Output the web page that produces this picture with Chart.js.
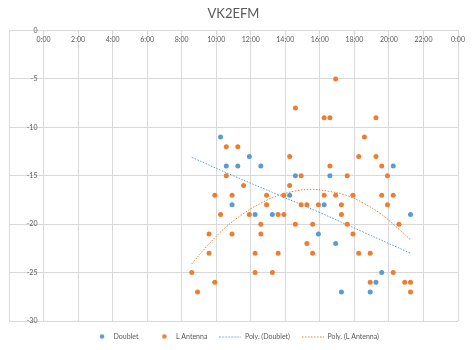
<!DOCTYPE html>
<html>
<head>
<meta charset="utf-8">
<title>VK2EFM</title>
<script src="https://cdn.jsdelivr.net/npm/chart.js@4"></script>
<style>
  html, body { margin: 0; padding: 0; background: #fff; }
  canvas { display: block; }
</style>
</head>
<body>
<canvas id="vk2efmChart" width="474" height="350"></canvas>
<script>
// SNR reports (dB) against time of day
const doubletTimes = ["10:15", "10:35", "10:55", "11:15", "11:55", "12:15", "12:35", "13:15", "14:15", "14:35",
  "15:55", "16:15", "16:35", "16:55", "17:15", "18:55", "19:15", "19:35", "20:15", "21:15"];
const doubletSnr = [-11, -14, -18, -14, -13, -19, -14, -19, -17, -15,
  -21, -18, -15, -22, -27, -27, -26, -25, -14, -19];

const lAntennaTimes = ["8:35", "8:55", "9:35", "9:35", "9:55", "9:55", "10:15", "10:35", "10:35", "10:55",
  "10:55", "11:15", "11:35", "11:55", "12:15", "12:15", "12:35", "12:35", "12:55", "12:55",
  "13:15", "13:35", "13:35", "13:55", "13:55", "14:15", "14:15", "14:35", "14:35", "14:55",
  "14:55", "15:15", "15:15", "15:35", "15:35", "15:55", "16:15", "16:15", "16:35", "16:35",
  "16:55", "16:55", "17:15", "17:15", "17:35", "17:35", "17:55", "17:55", "18:15", "18:15",
  "18:35", "18:55", "18:55", "19:15", "19:15", "19:35", "19:35", "19:55", "19:55", "20:15",
  "20:15", "20:35", "20:55", "21:15", "21:15"];
const lAntennaSnr = [-25, -27, -21, -23, -17, -26, -19, -12, -15, -17,
  -21, -12, -16, -19, -23, -25, -20, -21, -17, -18,
  -25, -19, -23, -17, -19, -16, -13, -8, -20, -15,
  -18, -18, -22, -20, -23, -18, -9, -17, -9, -14,
  -5, -17, -18, -19, -15, -20, -17, -21, -13, -23,
  -11, -23, -26, -9, -13, -14, -17, -15, -18, -17,
  -25, -20, -26, -26, -27];

// trendlines
const polyDoubletTimes = ["8:35", "11:00", "13:30", "16:00", "18:30", "21:15"];
const polyDoubletSnr = [-13.1, -15.0, -16.9, -18.8, -20.8, -23.0];
const polyLAntennaTimes = ["8:35", "9:30", "10:30", "11:30", "12:30", "13:30", "14:30",
  "15:30", "16:30", "17:30", "18:30", "19:30", "20:30", "21:15"];
const polyLAntennaSnr = [-24.1, -22.2, -20.4, -19.0, -17.9, -17.1, -16.6,
  -16.4, -16.6, -17.0, -17.8, -18.9, -20.4, -21.6];

const blue = "#5b9bd5";
const orange = "#ed7d31";
const textGrey = "#595959";
const gridGrey = "#d9d9d9";

const toHours = (t) => {
  const [h, m] = t.split(":").map(Number);
  return h + m / 60;
};
const toPoints = (times, vals) => times.map((t, i) => ({ x: toHours(t), y: vals[i] }));

// little legend symbols (dot / dotted line)
const legendIcon = (kind, color) => {
  const c = document.createElement("canvas");
  c.width = 22;
  c.height = 6;
  const g = c.getContext("2d");
  if (kind === "dot") {
    g.fillStyle = color;
    g.beginPath();
    g.arc(14, 3, 2.3, 0, Math.PI * 2);
    g.fill();
  } else {
    g.strokeStyle = color;
    g.lineWidth = 1;
    g.setLineDash([1.5, 1.5]);
    g.beginPath();
    g.moveTo(0, 3.5);
    g.lineTo(22, 3.5);
    g.stroke();
  }
  return c;
};

Chart.defaults.font.family = "Lato, 'Open Sans', sans-serif";
Chart.defaults.color = textGrey;

const icons = [
  legendIcon("dot", blue),
  legendIcon("dot", orange),
  legendIcon("line", blue),
  legendIcon("line", orange),
];

new Chart(document.getElementById("vk2efmChart"), {
  type: "scatter",
  data: {
    datasets: [
      {
        label: "Doublet",
        data: toPoints(doubletTimes, doubletSnr),
        backgroundColor: blue,
        borderColor: blue,
        pointRadius: 2.5,
        pointBorderWidth: 0,
      },
      {
        label: "L Antenna",
        data: toPoints(lAntennaTimes, lAntennaSnr),
        backgroundColor: orange,
        borderColor: orange,
        pointRadius: 2.5,
        pointBorderWidth: 0,
      },
      {
        label: "Poly. (Doublet)",
        data: toPoints(polyDoubletTimes, polyDoubletSnr),
        showLine: true,
        borderColor: blue,
        borderWidth: 1,
        borderDash: [1.5, 1.5],
        pointRadius: 0,
        tension: 0.4,
      },
      {
        label: "Poly. (L Antenna)",
        data: toPoints(polyLAntennaTimes, polyLAntennaSnr),
        showLine: true,
        borderColor: orange,
        borderWidth: 1,
        borderDash: [1.5, 1.5],
        pointRadius: 0,
        tension: 0.4,
      },
    ],
  },
  options: {
    responsive: false,
    animation: false,
    layout: { padding: { left: 9, right: 16, top: 0, bottom: 0 } },
    plugins: {
      title: {
        display: true,
        text: "VK2EFM",
        color: textGrey,
        font: { size: 13, weight: "normal" },
        padding: { top: 6, bottom: 9 },
      },
      legend: {
        position: "bottom",
        labels: {
          usePointStyle: true,
          pointStyleWidth: 22,
          boxHeight: 6,
          padding: 12,
          font: { size: 7 },
          color: textGrey,
          generateLabels: (chart) =>
            chart.data.datasets.map((ds, i) => ({
              text: ds.label,
              fillStyle: "transparent",
              strokeStyle: "transparent",
              lineWidth: 0,
              pointStyle: icons[i],
              fontColor: textGrey,
              hidden: false,
              datasetIndex: i,
            })),
        },
      },
      tooltip: { enabled: false },
    },
    scales: {
      x: {
        type: "linear",
        position: { y: 0 },
        min: -2,
        max: 24,
        ticks: {
          stepSize: 2,
          autoSkip: false,
          maxRotation: 0,
          padding: 5,
          font: { size: 7 },
          callback: (v) => (v < 0 ? "" : `${v % 24}:00`),
        },
        grid: { color: gridGrey, drawTicks: false },
        border: { color: gridGrey },
      },
      y: {
        type: "linear",
        // labels sit just left of the 0:00 line
        position: { x: -0.35 },
        min: -30,
        max: 0,
        ticks: { stepSize: 5, font: { size: 7 } },
        grid: { color: gridGrey, drawTicks: false },
        border: { display: false },
      },
    },
  },
});
</script>
</body>
</html>
